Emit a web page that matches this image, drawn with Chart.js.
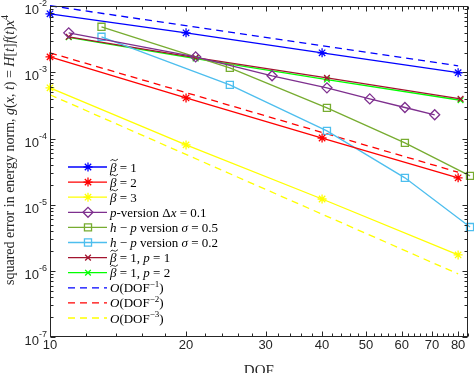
<!DOCTYPE html>
<html>
<head>
<meta charset="utf-8">
<script src="https://cdn.jsdelivr.net/npm/chart.js@4.4.0/dist/chart.umd.min.js"></script>
<style>
  html, body { margin: 0; padding: 0; background: #fff; }
  canvas { display: block; }
</style>
</head>
<body>
<canvas id="errChart" width="474" height="373"></canvas>
<script>
// values (DOF on x, squared energy error on y)
const dofBeta = [10, 20, 40, 80];
const errBeta1 = [7.7e-3, 3.97e-3, 1.98e-3, 9.9e-4];
const errBeta2 = [1.72e-3, 4.12e-4, 1.02e-4, 2.55e-5];
const errBeta3 = [5.85e-4, 8.03e-5, 1.22e-5, 1.74e-6];

const dofPVersion = [11, 21, 31, 41, 51, 61, 71];
const errPVersion = [3.97e-3, 1.72e-3, 8.9e-4, 5.85e-4, 3.98e-4, 2.95e-4, 2.29e-4];

const dofHp = [13, 25, 41, 61, 85];
const errHp05 = [4.9e-3, 1.17e-3, 2.91e-4, 8.6e-5, 2.73e-5];
const errHp02 = [3.46e-3, 6.5e-4, 1.31e-4, 2.55e-5, 4.6e-6];

const dofBetaP = [11, 21, 41, 81];
const errBeta1P1 = [3.46e-3, 1.68e-3, 8.3e-4, 3.98e-4];
const errBeta1P2 = [3.4e-3, 1.62e-3, 7.8e-4, 3.8e-4];

const dofRef = [10, 80];
const refOrder1 = [1.02e-2, 1.26e-3];
const refOrder2 = [1.98e-3, 3.1e-5];
const refOrder3 = [4.6e-4, 9.0e-7];

const xTickLabels = [10, 20, 30, 40, 50, 60, 70, 80];
const yTickExponents = [-2, -3, -4, -5, -6, -7];

// legend text pieces: [text, style]  style: n normal, i italic, t italic with tilde, s superscript
const legendLabels = [
  [['β', 't'], [' = 1', 'n']],
  [['β', 't'], [' = 2', 'n']],
  [['β', 't'], [' = 3', 'n']],
  [['p', 'i'], ['-version Δ', 'n'], ['x', 'i'], [' = 0.1', 'n']],
  [['h', 'i'], [' − ', 'n'], ['p', 'i'], [' version ', 'n'], ['σ', 'i'], [' = 0.5', 'n']],
  [['h', 'i'], [' − ', 'n'], ['p', 'i'], [' version ', 'n'], ['σ', 'i'], [' = 0.2', 'n']],
  [['β', 't'], [' = 1, ', 'n'], ['p', 'i'], [' = 1', 'n']],
  [['β', 't'], [' = 1, ', 'n'], ['p', 'i'], [' = 2', 'n']],
  [['O', 'i'], ['(DOF', 'n'], ['−1', 's'], [')', 'n']],
  [['O', 'i'], ['(DOF', 'n'], ['−2', 's'], [')', 'n']],
  [['O', 'i'], ['(DOF', 'n'], ['−3', 's'], [')', 'n']]
];
const yTitle = [
  ['squared error in energy norm, ', 'n'], ['g', 'i'], ['(', 'n'], ['x', 'i'], [', ', 'n'],
  ['t', 'i'], [') = ', 'n'], ['H', 'i'], ['[', 'n'], ['t', 'i'], [']', 'n'], ['f', 'i'],
  ['(', 'n'], ['t', 'i'], [')', 'n'], ['x', 'i'], ['4', 's']
];

const axisColor = '#262626';
const radii = { star: 4.5, rectRot: 5, rect: 5, crossRot: 4 };

function series(xs, ys, color, style, dashed) {
  return {
    data: xs.map((x, i) => ({ x: x, y: ys[i] })),
    borderColor: color,
    backgroundColor: 'rgba(0,0,0,0)',
    borderWidth: 1.3,
    borderDash: dashed ? [7, 5] : [],
    pointStyle: style || 'circle',
    pointRadius: style ? radii[style] : 0,
    pointBorderColor: color,
    pointBackgroundColor: 'rgba(0,0,0,0)',
    pointBorderWidth: 1.3,
    tension: 0,
    clip: false
  };
}

const datasets = [
  series(dofBeta, errBeta1, '#0000ff', 'star'),
  series(dofBeta, errBeta2, '#ff0000', 'star'),
  series(dofBeta, errBeta3, '#ffff00', 'star'),
  series(dofPVersion, errPVersion, '#7e2f8e', 'rectRot'),
  series(dofHp, errHp05, '#77ac30', 'rect'),
  series(dofHp, errHp02, '#4dbeee', 'rect'),
  series(dofBetaP, errBeta1P1, '#a2142f', 'crossRot'),
  series(dofBetaP, errBeta1P2, '#00ff00', 'crossRot'),
  series(dofRef, refOrder1, '#0000ff', null, true),
  series(dofRef, refOrder2, '#ff0000', null, true),
  series(dofRef, refOrder3, '#ffff00', null, true)
];

function segFont(style, size) {
  const sz = style === 's' ? Math.round(size * 0.7) : size;
  const it = (style === 'i' || style === 't') ? 'italic ' : '';
  return it + sz + 'px "Liberation Serif", "Times New Roman", serif';
}

function richWidth(ctx, segs, size) {
  let w = 0;
  segs.forEach(s => {
    ctx.font = segFont(s[1], size);
    w += ctx.measureText(s[0]).width;
  });
  return w;
}

// draws text pieces on one baseline, returns width
function drawRich(ctx, segs, x, y, size) {
  let cx = x;
  segs.forEach(s => {
    ctx.font = segFont(s[1], size);
    const w = ctx.measureText(s[0]).width;
    const dy = s[1] === 's' ? -size * 0.42 : 0;
    ctx.fillText(s[0], cx, y + dy);
    if (s[1] === 't') {
      // wide tilde over beta
      const ty = y - size * 0.88;
      ctx.save();
      ctx.lineWidth = 0.8;
      ctx.strokeStyle = ctx.fillStyle;
      ctx.beginPath();
      ctx.moveTo(cx + 0.5, ty + 1);
      ctx.quadraticCurveTo(cx + w * 0.3, ty - 1.8, cx + w * 0.55, ty);
      ctx.quadraticCurveTo(cx + w * 0.8, ty + 1.8, cx + w + 1.5, ty - 1);
      ctx.stroke();
      ctx.restore();
    }
    cx += w;
  });
  return cx - x;
}

const framePlugin = {
  id: 'frame',
  afterDatasetsDraw(chart) {
    const { ctx, chartArea: a, scales } = chart;
    const xs = scales.x, ys = scales.y;
    const L = Math.round(a.left) + 0.5, R = Math.round(a.right) - 0.5;
    const T = Math.round(a.top) + 0.5, B = Math.round(a.bottom) - 0.5;
    ctx.save();
    ctx.strokeStyle = axisColor;
    ctx.fillStyle = axisColor;
    ctx.lineWidth = 1;
    ctx.strokeRect(L, T, R - L, B - T);

    ctx.beginPath();
    // x ticks, bottom and top, pointing inward
    for (let v = 12; v <= 84; v += 2) {
      const major = xTickLabels.indexOf(v) >= 0;
      const len = major ? 5 : 3;
      const px = Math.round(xs.getPixelForValue(v)) + 0.5;
      ctx.moveTo(px, B); ctx.lineTo(px, B - len);
      ctx.moveTo(px, T); ctx.lineTo(px, T + len);
    }
    // y ticks, left and right
    for (let e = -7; e <= -2; e++) {
      for (let k = 1; k <= 9; k++) {
        const v = k * Math.pow(10, e);
        if (v > 1.0001e-2) break;
        const len = k === 1 ? 5 : 3;
        const py = Math.round(ys.getPixelForValue(v)) + 0.5;
        ctx.moveTo(L, py); ctx.lineTo(L + len, py);
        ctx.moveTo(R, py); ctx.lineTo(R - len, py);
      }
    }
    ctx.stroke();

    // x tick labels
    ctx.font = '13px "Liberation Sans", Arial, sans-serif';
    ctx.textAlign = 'center';
    ctx.textBaseline = 'alphabetic';
    xTickLabels.forEach(v => {
      ctx.fillText(String(v), xs.getPixelForValue(v), a.bottom + 12);
    });

    // y tick labels 10^e
    yTickExponents.forEach(e => {
      const py = ys.getPixelForValue(Math.pow(10, e));
      ctx.font = '9px "Liberation Sans", Arial, sans-serif';
      const exp = String(e);
      const ew = ctx.measureText(exp).width;
      ctx.textAlign = 'left';
      const right = a.left - 3;
      ctx.fillText(exp, right - ew, py + 0);
      ctx.font = '13px "Liberation Sans", Arial, sans-serif';
      const bw = ctx.measureText('10').width;
      ctx.fillText('10', right - ew - bw, py + 8);
    });

    // x title
    ctx.font = '15px "Liberation Serif", "Times New Roman", serif';
    ctx.textAlign = 'center';
    ctx.textBaseline = 'top';
    ctx.fillText('DOF', (a.left + a.right) / 2, a.bottom + 27);

    // y title, rotated
    ctx.textAlign = 'left';
    ctx.textBaseline = 'alphabetic';
    const tw = richWidth(ctx, yTitle, 14);
    ctx.save();
    ctx.translate(14, 150);
    ctx.rotate(-Math.PI / 2);
    drawRich(ctx, yTitle, -tw / 2, 0, 14);
    ctx.restore();

    // legend
    const x0 = 68, x1 = 107, xm = 88, textX = 110, rowTop = 167, rowStep = 15.1;
    chart.data.datasets.forEach((ds, i) => {
      const ry = rowTop + i * rowStep;
      ctx.save();
      ctx.strokeStyle = ds.borderColor;
      ctx.lineWidth = ds.borderWidth;
      ctx.setLineDash(ds.borderDash || []);
      ctx.beginPath();
      ctx.moveTo(x0, ry); ctx.lineTo(x1, ry);
      ctx.stroke();
      ctx.setLineDash([]);
      if (ds.pointRadius > 0) {
        ctx.fillStyle = 'rgba(0,0,0,0)';
        ctx.lineWidth = ds.pointBorderWidth;
        Chart.helpers.drawPoint(ctx, {
          pointStyle: ds.pointStyle, radius: ds.pointRadius,
          borderWidth: ds.pointBorderWidth, rotation: 0
        }, xm, ry);
      }
      ctx.restore();
      ctx.fillStyle = '#000';
      ctx.textBaseline = 'alphabetic';
      drawRich(ctx, legendLabels[i], textX, ry + 4.5, 13);
    });
    ctx.restore();
  }
};

const ctx = document.getElementById('errChart');
if (ctx) {
  new Chart(ctx.getContext('2d'), {
    type: 'line',
    data: { datasets: datasets },
    options: {
      responsive: false,
      animation: false,
      devicePixelRatio: 1,
      layout: { padding: { left: 50, right: 5, top: 6, bottom: 36 } },
      scales: {
        x: { type: 'logarithmic', min: 10, max: 84, display: false },
        y: { type: 'logarithmic', min: 1e-7, max: 1e-2, display: false }
      },
      plugins: {
        legend: { display: false },
        tooltip: { enabled: false }
      }
    },
    plugins: [framePlugin]
  });
} else {
  console.error('Canvas element with ID "errChart" not found');
}
</script>
</body>
</html>
